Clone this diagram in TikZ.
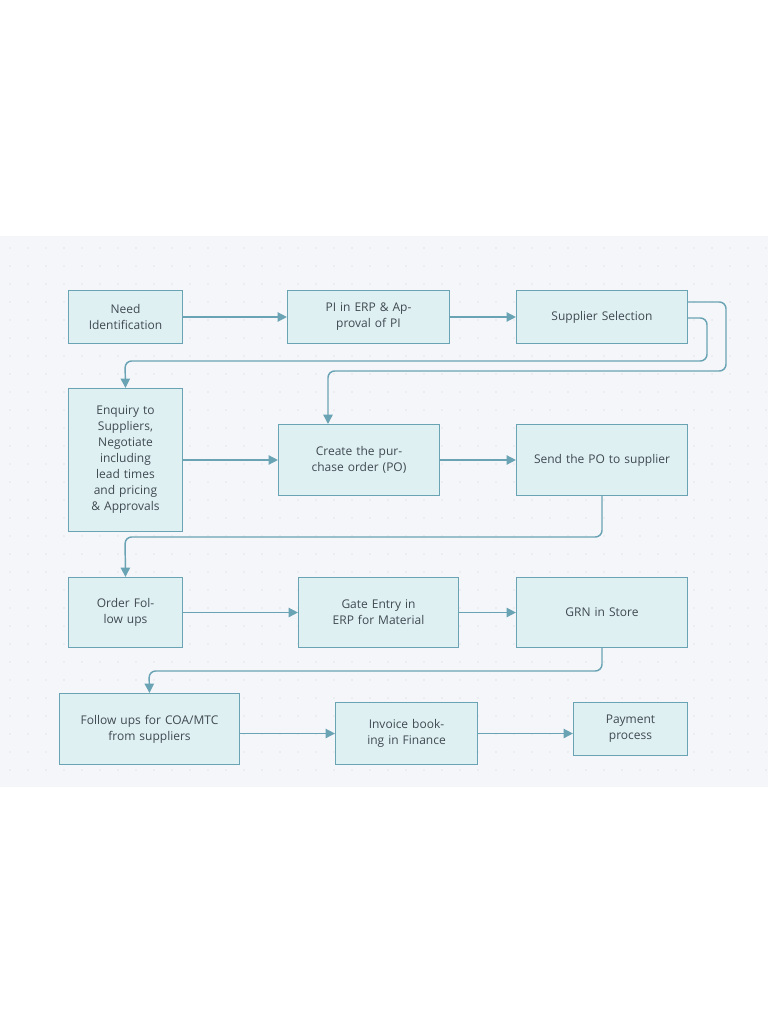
\documentclass[tikz,border=0pt]{standalone}
\usepackage{fontspec}
\setmainfont{Open Sans}
\usetikzlibrary{arrows.meta}
\definecolor{bfill}{HTML}{DFF0F3}
\definecolor{bline}{HTML}{6AA4B4}
\definecolor{bg}{HTML}{F5F6FA}
\definecolor{txt}{HTML}{3F4A50}
\begin{document}
\begin{tikzpicture}[x=0.75pt,y=-0.75pt,
 box/.style={draw=bline,fill=bfill,line width=1.1pt,align=center,text=txt,font=\fontsize{9}{12}\selectfont,inner sep=2pt},
 conn/.style={draw=bline,line width=1.1pt,rounded corners=5pt,-{Triangle[length=7pt,width=7pt]}}]
\useasboundingbox (0,0) rectangle (768,1024);
\fill[white] (0,0) rectangle (768,1024);
\fill[bg] (0,236) rectangle (768,787);
\foreach \x in {10,28,...,768}{\foreach \y in {248,266,...,780}{\fill[gray!35] (\x,\y) circle (0.6);}}
\newcommand{\bx}[6]{\node[box,minimum width=#4*0.75pt-1pt,minimum height=#5*0.75pt-1pt,text width=#4*0.75pt-14pt] (#1) at (#2,#3) {#6};}
\bx{need}{125.5}{317}{115}{54}{Need\\Identification}
\bx{pi}{368.5}{317}{163}{54}{PI in ERP \& Approval of PI}
\bx{sup}{602}{317}{172}{54}{Supplier Selection}
\bx{enq}{125.5}{460}{115}{144}{Enquiry to Suppliers, Negotiate including lead times and pricing \& Approvals}
\bx{cpo}{359}{460}{162}{72}{Create the purchase order (PO)}
\bx{spo}{602}{460}{172}{72}{Send the PO to supplier}
\bx{ofu}{125.5}{612.5}{115}{71}{Order Follow ups}
\bx{gate}{378.5}{612.5}{161}{71}{Gate Entry in ERP for Material}
\bx{grn}{602}{612.5}{172}{71}{GRN in Store}
\bx{coa}{149.5}{729}{181}{72}{Follow ups for COA/MTC from suppliers}
\bx{inv}{406.5}{733.5}{143}{63}{Invoice booking in Finance}
\bx{pay}{630.5}{729}{115}{54}{Payment\\process}
\coordinate (s1) at (688,302);
\coordinate (s2) at (688,318);
\draw[conn] (need) -- (pi);
\draw[conn] (pi) -- (sup);
\draw[conn] (s1) -- (726,302) -- (726,371) -- (328,371) -- (328,424);
\draw[conn] (s2) -- (707,318) -- (707,361) -- (125,361) -- (enq.north);
\draw[conn] (enq.east |- cpo) -- (cpo);
\draw[conn] (cpo) -- (spo);
\draw[conn] (spo.south) -- (602,537) -- (125,537) -- (ofu.north);
\draw[conn] (ofu) -- (gate);
\draw[conn] (gate) -- (grn);
\draw[conn] (grn.south) -- (602,671) -- (149,671) -- (coa.north);
\draw[conn] (coa.east |- inv) -- (inv);
\draw[conn] (inv.east) -- (pay.west |- inv.east);
\end{tikzpicture}
\end{document}
